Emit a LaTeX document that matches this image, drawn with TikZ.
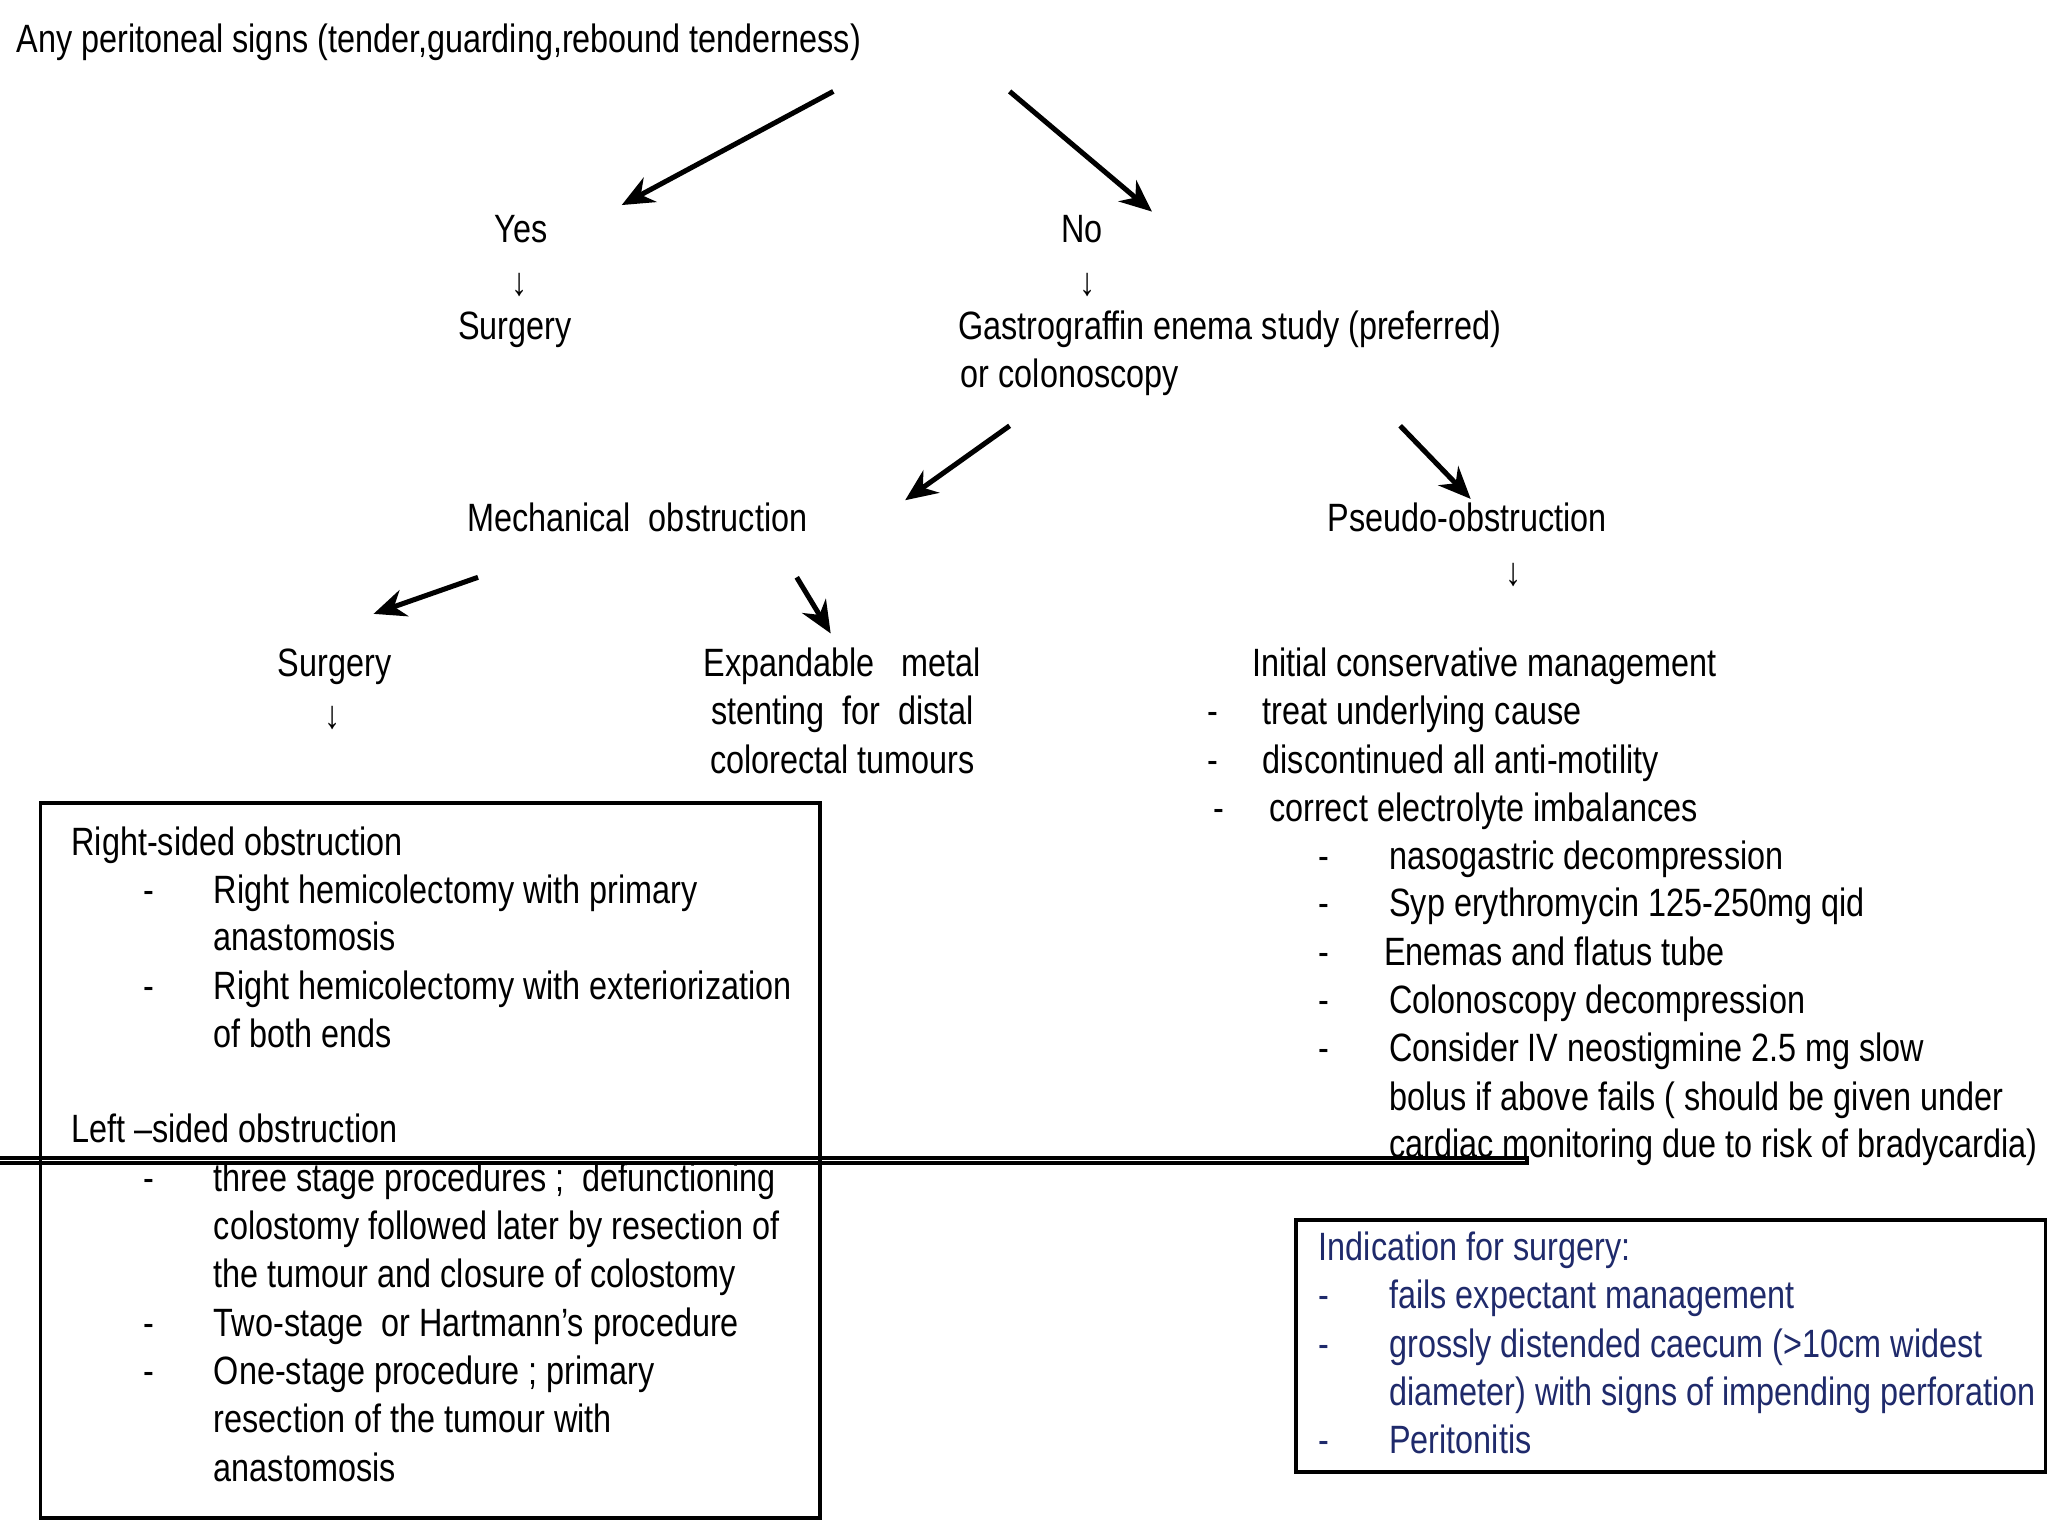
\documentclass[tikz,border=0pt]{standalone}
\usepackage{fontspec}
\setmainfont{Liberation Sans}[FakeStretch=0.82]
\usetikzlibrary{arrows.meta}
\definecolor{navy}{HTML}{1F2A6B}
\begin{document}
\begin{tikzpicture}[x=0.01cm,y=-0.01cm,
  every node/.style={font=\fontsize{8.6pt}{10pt}\selectfont},
  t/.style={anchor=base west, inner sep=0pt},
  c/.style={anchor=base, inner sep=0pt},
  arr/.style={line width=1.1pt, -{Stealth[length=7pt,width=6pt]}},
  box/.style={draw, line width=0.8pt}]
\useasboundingbox (0,0) rectangle (1568,1176);
\newcommand{\tl}[3]{\node[t] at (#1,#2+8) {#3};}
% top
\tl{12}{32}{Any peritoneal signs (tender,guarding,rebound tenderness)}
\tl{378}{178}{Yes}
\node[c] at (398,226) {↓};
\tl{350}{252}{Surgery}
\tl{812}{178}{No}
\node[c] at (833,226) {↓};
\tl{733}{252}{Gastrograffin enema study (preferred)}
\tl{735}{289}{or colonoscopy}
\tl{357}{399}{Mechanical\ \ obstruction}
\tl{1016}{399}{Pseudo-obstruction}
\node[c] at (1159,448) {↓};
\tl{212}{510}{Surgery}
\node[c] at (255,558) {↓};
\node[c] at (645,518) {Expandable\ \ \ metal};
\node[c] at (645,555) {stenting\ \ for\ \ distal};
\node[c] at (645,592) {colorectal tumours};
% arrows
\coordinate (a1) at (638,70); \coordinate (a2) at (476,157);
\coordinate (b1) at (773,70); \coordinate (b2) at (882,162);
\coordinate (c1) at (773,326); \coordinate (c2) at (693,383);
\coordinate (d1) at (1072,326); \coordinate (d2) at (1126,382);
\coordinate (e1) at (366,442); \coordinate (e2) at (286,470);
\coordinate (f1) at (610,442); \coordinate (f2) at (636,485);
\draw[arr] (a1) -- (a2);
\draw[arr] (b1) -- (b2);
\draw[arr] (c1) -- (c2);
\draw[arr] (d1) -- (d2);
\draw[arr] (e1) -- (e2);
\draw[arr] (f1) -- (f2);
% pseudo-obstruction management
\tl{958}{510}{Initial conservative management}
\tl{924}{547}{-}\tl{966}{547}{treat underlying cause}
\tl{924}{584}{-}\tl{966}{584}{discontinued all anti-motility}
\tl{928}{621}{-}\tl{971}{621}{correct electrolyte imbalances}
\tl{1009}{658}{-}\tl{1063}{658}{nasogastric decompression}
\tl{1009}{694}{-}\tl{1063}{694}{Syp erythromycin 125-250mg qid}
\tl{1009}{731}{-}\tl{1059}{731}{Enemas and flatus tube}
\tl{1009}{768}{-}\tl{1063}{768}{Colonoscopy decompression}
\tl{1009}{805}{-}\tl{1063}{805}{Consider IV neostigmine 2.5 mg slow}
\tl{1063}{842}{bolus if above fails ( should be given under}
\tl{1063}{878}{cardiac monitoring due to risk of bradycardia)}
% left box
\node[box, inner sep=0pt, minimum width=597\pgflinewidth] (lb) at (329.5,888.5) {};
\draw[box] (31,615) rectangle (628,1162);
\tl{54}{647}{Right-sided obstruction}
\tl{109}{684}{-}\tl{163}{684}{Right hemicolectomy with primary}
\tl{163}{720}{anastomosis}
\tl{109}{757}{-}\tl{163}{757}{Right hemicolectomy with exteriorization}
\tl{163}{794}{of both ends}
\tl{54}{867}{Left –sided obstruction}
\tl{109}{904}{-}\tl{163}{904}{three stage procedures ;\ \ defunctioning}
\tl{163}{941}{colostomy followed later by resection of}
\tl{163}{978}{the tumour and closure of colostomy}
\tl{109}{1015}{-}\tl{163}{1015}{Two-stage\ \ or Hartmann’s procedure}
\tl{109}{1052}{-}\tl{163}{1052}{One-stage procedure ; primary}
\tl{163}{1089}{resection of the tumour with}
\tl{163}{1126}{anastomosis}
% right box
\draw[box] (992,934) rectangle (1566,1127);
\begin{scope}[every node/.append style={text=navy}]
\tl{1009}{957}{Indication for surgery:}
\tl{1009}{994}{-}\tl{1063}{994}{fails expectant management}
\tl{1009}{1031}{-}\tl{1063}{1031}{grossly distended caecum (>10cm widest}
\tl{1063}{1068}{diameter) with signs of impending perforation}
\tl{1009}{1105}{-}\tl{1063}{1105}{Peritonitis}
\end{scope}
\end{tikzpicture}
\end{document}
